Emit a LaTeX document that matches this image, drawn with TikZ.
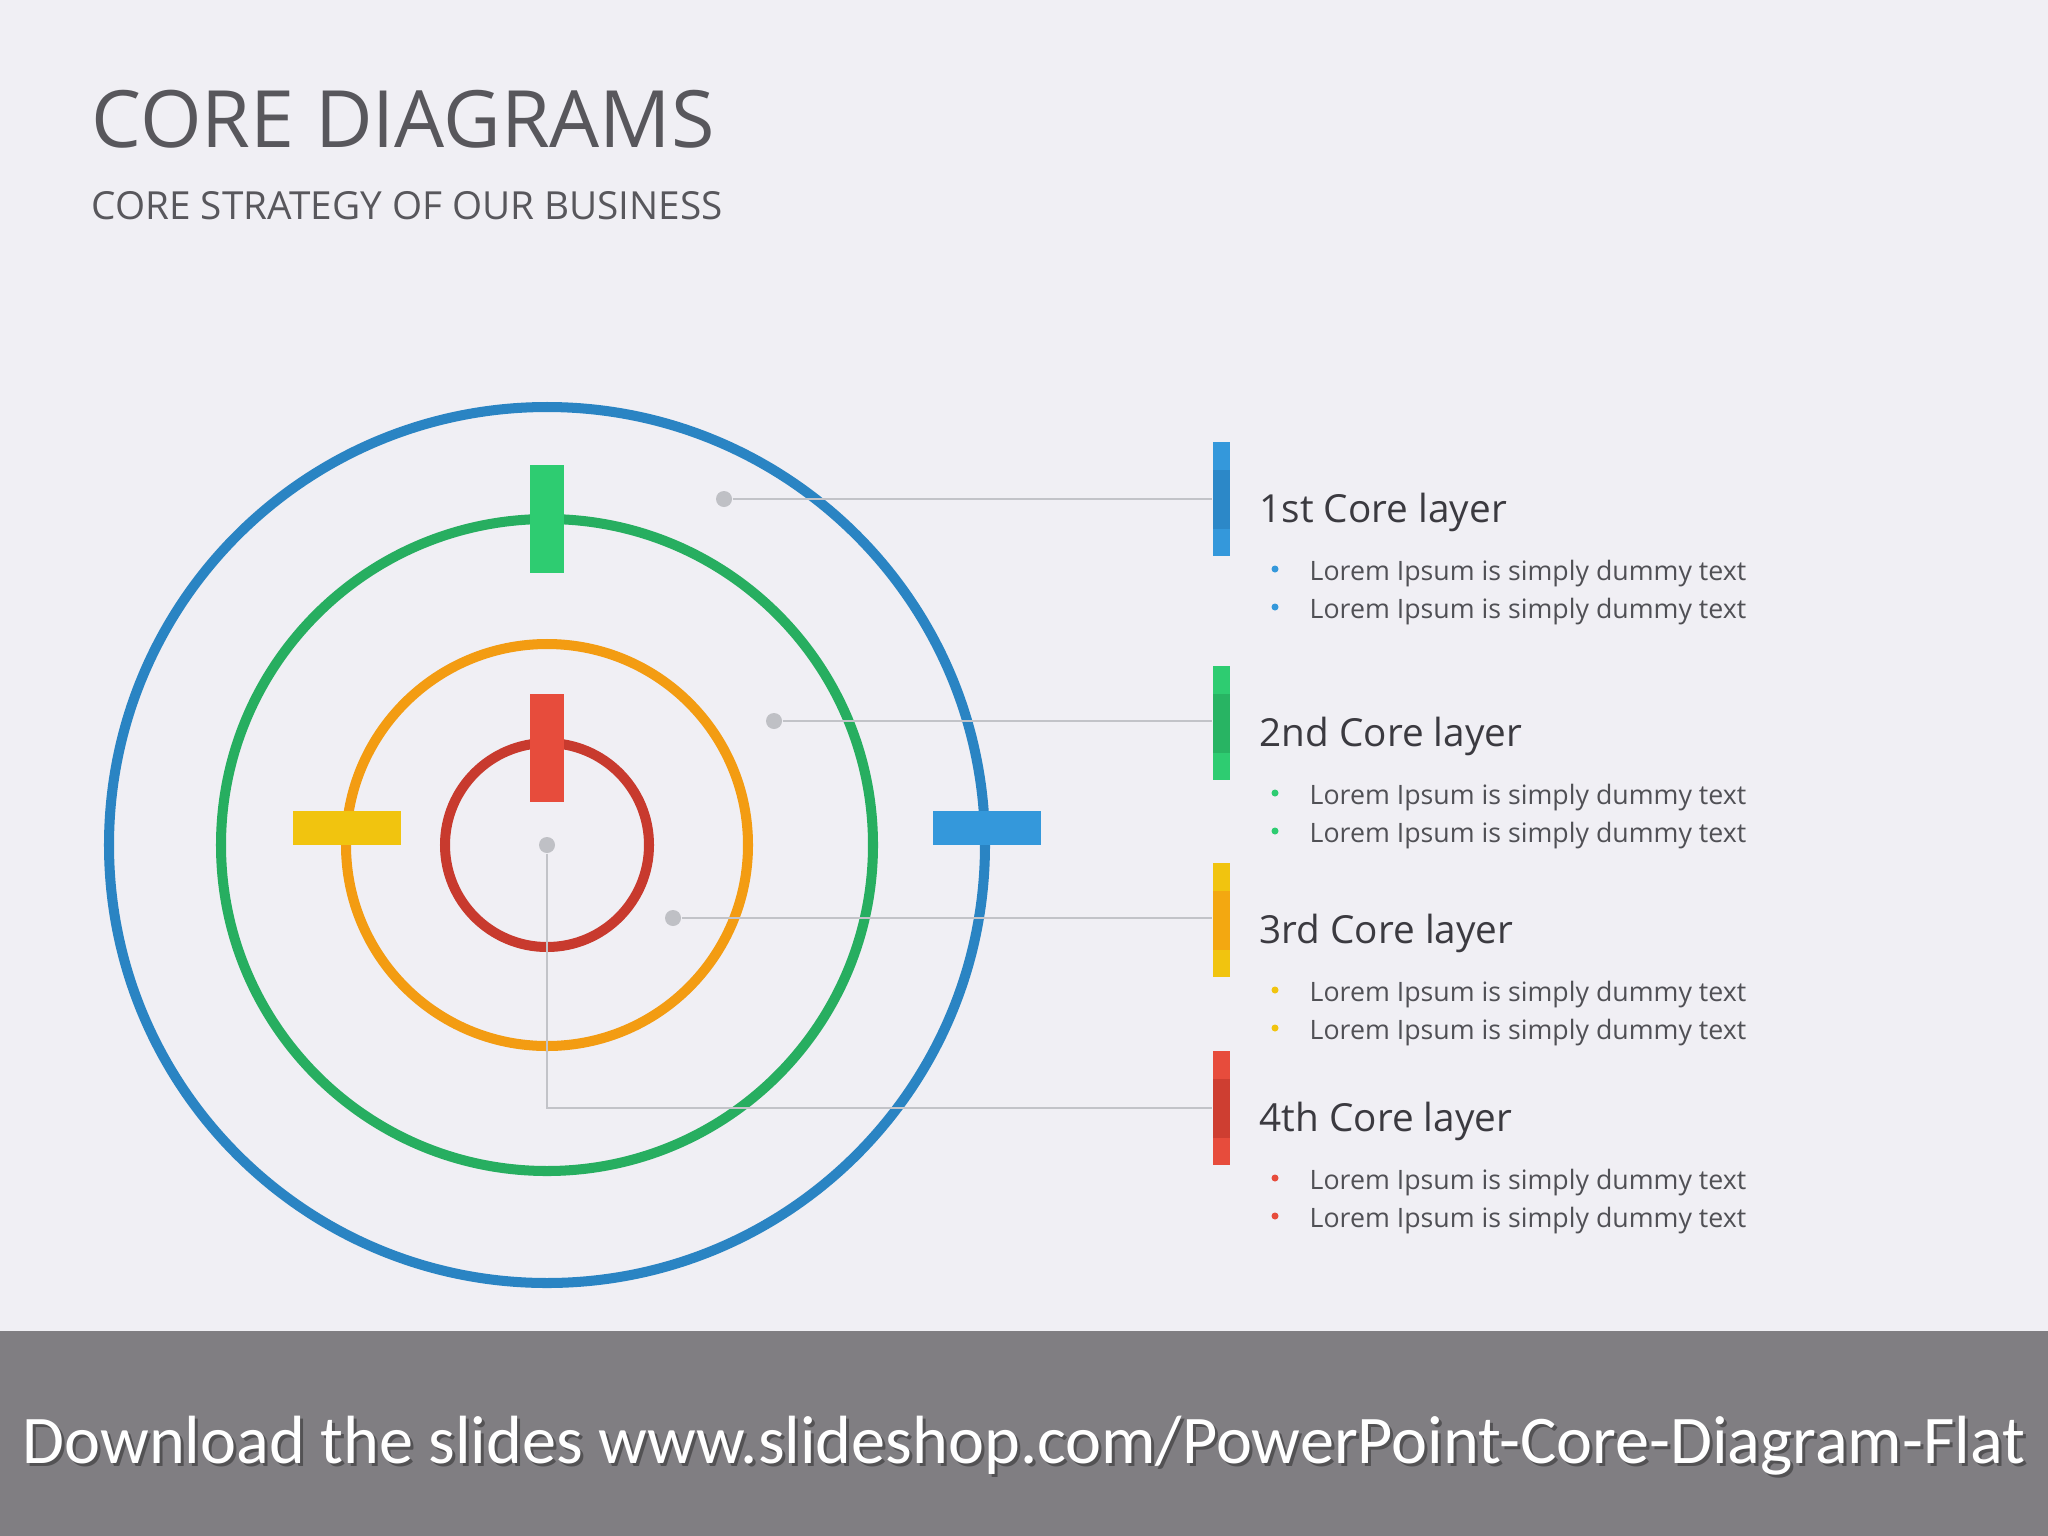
\documentclass[tikz,border=0pt]{standalone}
\usepackage{fontspec}
\setmainfont{Open Sans}
\newfontfamily\bannerfont{Carlito}
\usetikzlibrary{calc}
\definecolor{bgcol}{HTML}{F0EFF4}
\definecolor{titlecol}{HTML}{58575C}
\definecolor{headcol}{HTML}{3B3A40}
\definecolor{bodycol}{HTML}{505055}
\definecolor{bannercol}{HTML}{807E82}
\definecolor{pingray}{HTML}{BFC0C5}
\definecolor{linegray}{HTML}{C2C3C8}
\definecolor{rblue}{HTML}{2A84C3}
\definecolor{rgreen}{HTML}{27AE60}
\definecolor{rorange}{HTML}{F39C12}
\definecolor{rred}{HTML}{C83A2E}
\definecolor{bblue}{HTML}{3498DB}
\definecolor{bgreen}{HTML}{2ECC71}
\definecolor{byellow}{HTML}{F1C40F}
\definecolor{bred}{HTML}{E74C3C}
\tikzset{ring/.style={line width=2.85pt},
         bar/.style={rectangle, inner sep=0pt, fill=#1},
         vbar/.style={bar=#1, minimum width=0.34cm, minimum height=1.07cm},
         hbar/.style={bar=#1, minimum width=1.08cm, minimum height=0.34cm},
         keybar/.style={bar=#1, minimum width=0.17cm, minimum height=1.13cm},
         pin/.style={circle, fill=pingray, inner sep=0pt, minimum size=0.16cm},
         leader/.style={draw=linegray, line width=0.45pt},
         bullet/.style={circle, fill=#1, inner sep=0pt, minimum size=0.07cm},
         heading/.style={anchor=base west, inner sep=0pt, text=headcol, font=\fontsize{11}{13}\selectfont},
         body/.style={anchor=base west, inner sep=0pt, text=bodycol, font=\fontsize{7.6}{9}\selectfont}}

\begin{document}
\begin{tikzpicture}[x=0.01cm, y=-0.01cm]
        \pgfmathsetmacro{\ra}{438}
        \pgfmathsetmacro{\rb}{326}
        \pgfmathsetmacro{\rc}{201}
        \pgfmathsetmacro{\rd}{102}

        \fill[bgcol] (0,0) rectangle (2048,1536);
        \useasboundingbox (0,0) rectangle (2048,1536);
        \coordinate (O) at (547,845);
        %
        \node[anchor=base west, inner sep=0pt, text=titlecol, font=\fontsize{22.5}{27}\selectfont] (title) at (91,147) {CORE DIAGRAMS};
        \node[anchor=base west, inner sep=0pt, text=titlecol, font=\fontsize{11}{13}\selectfont] (subtitle) at (91,219) {CORE STRATEGY OF OUR BUSINESS};
        %
        \draw[ring, rblue] (O) circle (\ra);
        \draw[ring, rgreen] (O) circle (\rb);
        \draw[ring, rorange] (O) circle (\rc);
        \draw[ring, rred] (O) circle (\rd);
        %
        \node[vbar=bgreen] (mgreen) at ($(O)+(0,-\rb)$) {};
        \node[vbar=bred] (mred) at ($(O)+(0,-\rd+5)$) {};
        \node[hbar=byellow] (myellow) at ($(O)+(-\rc+1,-17)$) {};
        \node[hbar=bblue] (mblue) at ($(O)+(\ra+2,-17)$) {};
        %
        \node[pin] (p1) at (724,499) {};
        \node[pin] (p2) at (774,721) {};
        \node[pin] (p3) at (673,918) {};
        \node[pin] (p4) at (O) {};
        %
        \node[keybar=bblue] (k1) at (1221,499) {};
        \node[keybar=bgreen] (k2) at (1221,723) {};
        \node[keybar=byellow] (k3) at (1221,920) {};
        \node[keybar=bred] (k4) at (1221,1108) {};
        \fill[rblue!80!bblue] ($(k1.center)+(-8.5,-29.5)$) rectangle ($(k1.center)+(8.5,29.5)$);
        \fill[rgreen!80!bgreen] ($(k2.center)+(-8.5,-29.5)$) rectangle ($(k2.center)+(8.5,29.5)$);
        \fill[rorange!70!byellow] ($(k3.center)+(-8.5,-29.5)$) rectangle ($(k3.center)+(8.5,29.5)$);
        \fill[rred!80!bred] ($(k4.center)+(-8.5,-29.5)$) rectangle ($(k4.center)+(8.5,29.5)$);
        %
        \draw[leader] (p1.east) -- (p1.east -| k1.west);
        \draw[leader] (p2.east) -- (p2.east -| k2.west);
        \draw[leader] (p3.east) -- (p3.east -| k3.west);
        \draw[leader] (p4.south) |- (k4.west);
        %
        \node[heading] (h1) at (1259,522) {1st Core layer};
        \node[bullet=bblue] (d1a) at (1275,569) {};
        \node[body] (t1a) at (1309,580) {Lorem Ipsum is simply dummy text};
        \node[bullet=bblue] (d1b) at (1275,607) {};
        \node[body] (t1b) at (1309,618) {Lorem Ipsum is simply dummy text};
        %
        \node[heading] (h2) at (1259,746) {2nd Core layer};
        \node[bullet=bgreen] (d2a) at (1275,793) {};
        \node[body] (t2a) at (1309,804) {Lorem Ipsum is simply dummy text};
        \node[bullet=bgreen] (d2b) at (1275,831) {};
        \node[body] (t2b) at (1309,842) {Lorem Ipsum is simply dummy text};
        %
        \node[heading] (h3) at (1259,943) {3rd Core layer};
        \node[bullet=byellow] (d3a) at (1275,990) {};
        \node[body] (t3a) at (1309,1001) {Lorem Ipsum is simply dummy text};
        \node[bullet=byellow] (d3b) at (1275,1028) {};
        \node[body] (t3b) at (1309,1039) {Lorem Ipsum is simply dummy text};
        %
        \node[heading] (h4) at (1259,1131) {4th Core layer};
        \node[bullet=bred] (d4a) at (1275,1178) {};
        \node[body] (t4a) at (1309,1189) {Lorem Ipsum is simply dummy text};
        \node[bullet=bred] (d4b) at (1275,1216) {};
        \node[body] (t4b) at (1309,1227) {Lorem Ipsum is simply dummy text};
        %
        \fill[bannercol] (0,1331) rectangle (2048,1536);
        \node[anchor=base, inner sep=0pt, text=black, opacity=0.35, font=\bannerfont\fontsize{19.4}{23}\selectfont] (shadow) at (1027,1466) {Download the slides www.slideshop.com/PowerPoint-Core-Diagram-Flat};
        \node[anchor=base, inner sep=0pt, text=white, font=\bannerfont\fontsize{19.4}{23}\selectfont] (banner) at (1024,1463) {Download the slides www.slideshop.com/PowerPoint-Core-Diagram-Flat};
    \end{tikzpicture}
\end{document}
